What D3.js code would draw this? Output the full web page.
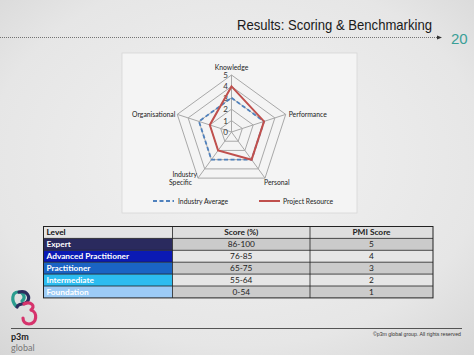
<!DOCTYPE html>
<html><head><meta charset="utf-8">
<script src="https://cdn.jsdelivr.net/npm/d3@7/dist/d3.min.js"></script>
<style>html,body{margin:0;padding:0;overflow:hidden;background:#e6e6e6}</style>
</head><body>
<svg id="c" width="474" height="355"></svg>
<script>
const axes = ["Knowledge", "Performance", "Personal", "Industry Specific", "Organisational"];
const industryAverage = [3, 3, 3, 3, 3];
const projectResource = [4, 3, 3, 2, 2];
const radarTicks = [0, 1, 2, 3, 4, 5];
const seriesNames = ["Industry Average", "Project Resource"];
const tableHeader = ["Level", "Score (%)", "PMI Score"];
const levels = ["Expert", "Advanced Practitioner", "Practitioner", "Intermediate", "Foundation"];
const scoreRanges = ["86-100", "76-85", "65-75", "55-64", "0-54"];
const pmiScores = ["5", "4", "3", "2", "1"];
const levelColors = ["#2a2a5e", "#0b1ab4", "#1a64c4", "#2cbcf0", "#9ccbf6"];

(function () {
const svg = d3.select("#c");
const defs = svg.append("defs");
const bg = defs.append("radialGradient").attr("id", "bg").attr("cx", "50%").attr("cy", "45%").attr("r", "75%");
bg.append("stop").attr("offset", "0%").attr("stop-color", "#f2f2f2");
bg.append("stop").attr("offset", "70%").attr("stop-color", "#e6e6e6");
bg.append("stop").attr("offset", "100%").attr("stop-color", "#d6d6d6");
svg.append("rect").attr("width", 474).attr("height", 355).attr("fill", "url(#bg)");

// title
svg.append("text").attr("x", 432).attr("y", 30).attr("text-anchor", "end")
  .attr("font-family", "Liberation Sans, Arial, sans-serif").attr("font-size", 14.5).attr("fill", "#1a1a1a")
  .attr("textLength", 195).attr("lengthAdjust", "spacingAndGlyphs")
  .text("Results: Scoring & Benchmarking");
svg.append("line").attr("x1", 0).attr("x2", 438).attr("y1", 37.5).attr("y2", 37.5)
  .attr("stroke", "#555").attr("stroke-width", 0.8).attr("stroke-dasharray", "1,1");
svg.append("path").attr("d", "M437,35.5 L442,37.5 L437,39.5 Z").attr("fill", "#333");
svg.append("text").attr("x", 451).attr("y", 44).attr("font-family", "Liberation Sans, Arial, sans-serif")
  .attr("font-size", 15).attr("fill", "#3a9f97").text("20");

// chart box
svg.append("rect").attr("x", 122).attr("y", 53).attr("width", 235).attr("height", 160)
  .attr("fill", "#f4f4f4").attr("stroke", "#d6d6d6").attr("stroke-width", 0.8);

const cx = 231.5, cy = 132, R = 57;
const r = d3.scaleLinear().domain([0, 5]).range([0, R]);
const ang = d3.scalePoint().domain(axes).range([0, 2 * Math.PI * (axes.length - 1) / axes.length]);
const pt = (a, v) => [cx + r(v) * Math.sin(ang(a)), cy - r(v) * Math.cos(ang(a))];
const g = svg.append("g");
radarTicks.slice(1).forEach(t => {
  g.append("path").attr("d", d3.line()(axes.map(a => pt(a, t))) + "Z")
    .attr("fill", "none").attr("stroke", "#a8a8a8").attr("stroke-width", 1);
});
axes.forEach(a => {
  const [x, y] = pt(a, 5);
  g.append("line").attr("x1", cx).attr("y1", cy).attr("x2", x).attr("y2", y)
    .attr("stroke", "#a8a8a8").attr("stroke-width", 1);
});
radarTicks.forEach(t => {
  g.append("text").attr("x", cx - 6).attr("y", cy - r(t) + 3).attr("text-anchor", "middle")
    .attr("font-family", "Lato, sans-serif").attr("font-size", 8).attr("fill", "#333").text(t);
});
const line = d3.line().curve(d3.curveLinearClosed);
g.append("path").attr("d", line(axes.map((a, i) => pt(a, industryAverage[i]))))
  .attr("fill", "none").attr("stroke", "#4f81bd").attr("stroke-width", 1.8).attr("stroke-dasharray", "4,2.5");
g.append("path").attr("d", line(axes.map((a, i) => pt(a, projectResource[i]))))
  .attr("fill", "none").attr("stroke", "#c0504d").attr("stroke-width", 2);

const lf = "Lato, sans-serif";
const lab = (x, y, anchor, txt) => g.append("text").attr("x", x).attr("y", y).attr("text-anchor", anchor)
  .attr("font-family", lf).attr("font-size", 6.8).attr("fill", "#222").text(txt);
lab(cx, 70, "middle", axes[0]);
lab(pt(axes[1], 5)[0] + 3, pt(axes[1], 5)[1] + 2.5, "start", axes[1]);
lab(pt(axes[2], 5)[0] - 1, pt(axes[2], 5)[1] + 7, "start", axes[2]);
const isw = axes[3].split(" ");
lab(pt(axes[3], 5)[0] - 1, pt(axes[3], 5)[1] - 1.5, "end", isw[0]);
lab(pt(axes[3], 5)[0] - 6, pt(axes[3], 5)[1] + 7, "end", isw[1]);
lab(pt(axes[4], 5)[0] - 2, pt(axes[4], 5)[1] + 2.5, "end", axes[4]);

// legend
g.append("line").attr("x1", 153).attr("x2", 174).attr("y1", 201).attr("y2", 201)
  .attr("stroke", "#4f81bd").attr("stroke-width", 1.8).attr("stroke-dasharray", "4,2.5");
lab(178, 203.5, "start", seriesNames[0]);
g.append("line").attr("x1", 259).attr("x2", 280).attr("y1", 201).attr("y2", 201)
  .attr("stroke", "#c0504d").attr("stroke-width", 2);
lab(283, 203.5, "start", seriesNames[1]);

// table
const colX = [43.5, 172.5, 310, 433];
const rowH = 11.9, tTop = 226.5;
const tg = svg.append("g").attr("font-family", lf).attr("font-size", 8.3);
const rows = [tableHeader].concat(levels.map((l, i) => [l, scoreRanges[i], pmiScores[i]]));
rows.forEach((row, ri) => {
  const y = tTop + ri * rowH;
  row.forEach((cell, ci) => {
    let fill;
    if (ri === 0) fill = ci === 0 ? "#e4e4e4" : "#dedede";
    else if (ci === 0) fill = levelColors[ri - 1];
    else fill = (ri % 2 === 1) ? "#cbcbcb" : "#e6e6e6";
    tg.append("rect").attr("x", colX[ci]).attr("y", y).attr("width", colX[ci + 1] - colX[ci]).attr("height", rowH)
      .attr("fill", fill);
    const t = tg.append("text").attr("y", y + rowH / 2 + 3).text(cell);
    if (ci === 0) {
      t.attr("x", colX[0] + 3).attr("font-weight", "bold").attr("fill", ri === 0 ? "#111" : "#fff");
    } else {
      t.attr("x", (colX[ci] + colX[ci + 1]) / 2).attr("text-anchor", "middle").attr("fill", "#222")
        .attr("font-weight", ri === 0 ? "bold" : "normal");
    }
  });
  tg.append("line").attr("x1", colX[0]).attr("x2", colX[3]).attr("y1", y).attr("y2", y)
    .attr("stroke", "#222").attr("stroke-width", 0.8);
});
tg.append("rect").attr("x", colX[0]).attr("y", tTop).attr("width", colX[3] - colX[0]).attr("height", rowH * rows.length)
  .attr("fill", "none").attr("stroke", "#222").attr("stroke-width", 1);
[1, 2].forEach(i => tg.append("line").attr("x1", colX[i]).attr("x2", colX[i]).attr("y1", tTop).attr("y2", tTop + rowH * rows.length)
  .attr("stroke", "#222").attr("stroke-width", 0.8));

// footer
svg.append("line").attr("x1", 11).attr("x2", 462).attr("y1", 328.5).attr("y2", 328.5).attr("stroke", "#444").attr("stroke-width", 0.9);
svg.append("text").attr("x", 461).attr("y", 336).attr("text-anchor", "end").attr("font-family", "Liberation Sans, Arial, sans-serif")
  .attr("font-size", 5.2).attr("fill", "#333").text("©p3m global group. All rights reserved");
svg.append("text").attr("x", 11).attr("y", 340).attr("font-family", lf).attr("font-weight", "bold").attr("font-size", 9).attr("fill", "#222").text("p3m");
svg.append("text").attr("x", 11).attr("y", 350.5).attr("font-family", lf).attr("font-size", 9).attr("fill", "#777").text("global");
// logo
const lg = svg.append("g").attr("fill", "none").attr("stroke-linecap", "round");
lg.append("path").attr("d", "M16,306 C11,301 12,292 18,292 C24,292 26,298 22,301").attr("stroke", "#2a9d8f").attr("stroke-width", 3.2);
lg.append("path").attr("d", "M19,292 C27,290 31,297 27,302 C24,305 18,303 17,307").attr("stroke", "#2b2d5e").attr("stroke-width", 3.2);
lg.append("path").attr("d", "M24,304 C31,301 36,306 31,310 M31,310 C38,312 37,324 29,324 C25,324 23,321 23,318").attr("stroke", "#d6336c").attr("stroke-width", 3.2);
})();
</script>
</body></html>
